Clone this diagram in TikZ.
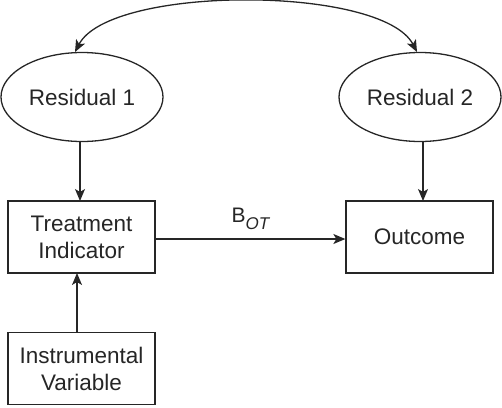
\documentclass[tikz,border=0pt]{standalone}
\usepackage{fontspec}
\setmainfont{Liberation Sans}
\usetikzlibrary{arrows.meta,shapes.geometric}
\begin{document}
\begin{tikzpicture}[x=1pt,y=1pt,
  every node/.style={font=\fontsize{22.5}{27}\selectfont, text=black!85},
  conn/.style={line width=1.3pt, draw=black!85, -{Stealth[length=12pt,width=10pt,inset=3pt]}},
  ovalnode/.style={ellipse, draw=black!85, line width=1.3pt, minimum width=162pt, minimum height=89pt, inner sep=0pt},
  boxnode/.style={rectangle, draw=black!85, line width=1.3pt, minimum width=147pt, minimum height=72pt, align=center, inner sep=0pt}]
\useasboundingbox (0,0) rectangle (502,-407);
\node[ovalnode] (r1) at (82,-97) {Residual 1};
\node[ovalnode] (r2) at (420,-97) {Residual 2};
\node[boxnode] (t) at (81.5,-237) {Treatment\\Indicator};
\node[boxnode] (o) at (419.5,-237) {Outcome};
\node[boxnode] (iv) at (81.5,-368.5) {Instrumental\\Variable};
\coordinate (r1b) at (80,-141.5);
\coordinate (tt) at (80,-201);
\coordinate (r2b) at (423,-141.5);
\coordinate (ot) at (423,-201);
\coordinate (ivt) at (77,-332);
\coordinate (tb) at (77,-273);
\coordinate (r1t) at (75,-52);
\coordinate (r2t) at (417,-52);
\draw[conn] (r1b) -- (tt);
\draw[conn] (r2b) -- (ot);
\draw[conn] (ivt) -- (tb);
\draw[conn] (t.east |- 0,-239) -- (o.west |- 0,-239) node[midway, above=5pt, font=\fontsize{21}{24}\selectfont] (lab) {B\raisebox{-0.33em}{\fontsize{17}{20}\selectfont\itshape OT}};
\draw[line width=1.3pt, draw=black!85, {Stealth[length=12pt,width=10pt,inset=3pt]}-{Stealth[length=12pt,width=10pt,inset=3pt]}] (r1t) .. controls (110,15) and (382,15) .. (r2t);
\end{tikzpicture}
\end{document}
